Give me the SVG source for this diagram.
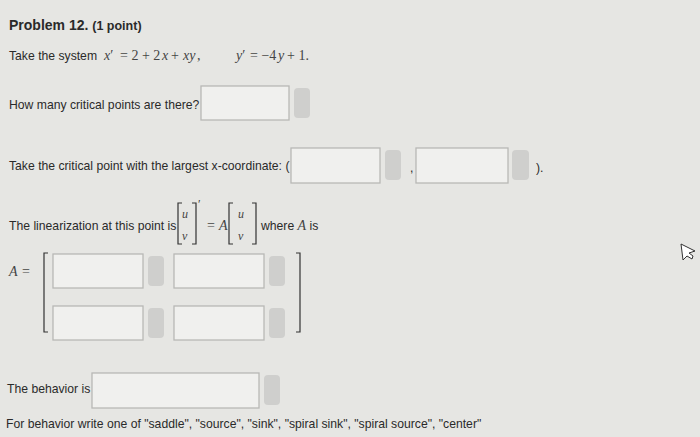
<svg xmlns="http://www.w3.org/2000/svg" width="700" height="437" viewBox="0 0 700 437">
<style>
text{font-family:"Liberation Sans",Arial,sans-serif;font-size:12.2px;fill:#2a2a2a}
.m{font-family:"Liberation Serif","Times New Roman",serif;font-style:italic;font-size:14px;fill:#444}
.n{font-style:normal}
.box{fill:#f0f0ee;stroke:#b8b8b6;stroke-width:1.3}
.btn{fill:#cfcfcd}
.br{fill:none;stroke:#333;stroke-width:1.2}
</style>
<rect width="700" height="437" fill="#e6e6e3"/>
<g id="title"><text x="9" y="30" style="font-weight:bold;font-size:14px">Problem 12. <tspan style="font-size:12.5px">(1 point)</tspan></text></g>
<g id="system"><text x="9" y="60">Take the system</text>
<text class="m" x="104" y="60">x<tspan class="n">′</tspan></text><text class="m n" x="120" y="60">= 2 + 2</text><text class="m" x="162" y="60">x</text><text class="m n" x="171" y="60">+</text><text class="m" x="183" y="60">xy</text><text class="m n" x="197" y="60">,</text>
<text class="m" x="236" y="60">y<tspan class="n">′</tspan></text><text class="m n" x="250" y="60">= −4</text><text class="m" x="278" y="60">y</text><text class="m n" x="287" y="60">+ 1.</text></g>
<g id="q1"><text x="9" y="109">How many critical points are there?</text>
<rect class="box" x="201" y="86" width="88" height="34"/><rect class="btn" x="294" y="88" width="16" height="30" rx="4"/></g>
<g id="q2"><text x="9" y="170">Take the critical point with the largest x-coordinate: (</text>
<rect class="box" x="291" y="148" width="89" height="35"/><rect class="btn" x="385" y="150" width="16" height="30" rx="4"/>
<text x="410" y="172">,</text>
<rect class="box" x="416" y="148" width="92" height="35"/><rect class="btn" x="512" y="150" width="17" height="30" rx="4"/>
<text x="536" y="172">).</text></g>
<g id="q3"><text x="9" y="230">The linearization at this point is</text>
<path class="br" d="M182,203h-4v41h4M192,203h4v41h-4"/>
<text class="m" x="182" y="218" style="font-size:12px">u</text><text class="m" x="182" y="240" style="font-size:12px">v</text>
<text class="m n" x="198" y="208" style="font-size:12px">′</text>
<text class="m n" x="207" y="230">=</text><text class="m" x="219" y="230">A</text>
<path class="br" d="M233,203h-4v41h4M252,203h4v41h-4"/>
<text class="m" x="238" y="218" style="font-size:12px">u</text><text class="m" x="238" y="240" style="font-size:12px">v</text>
<text x="261" y="230">where <tspan class="m">A</tspan> is</text></g>
<g id="matrix"><text class="m" x="9" y="276">A</text><text class="m n" x="22" y="276">=</text>
<path class="br" d="M48,253h-4v79h4M296,253h4v79h-4"/>
<rect class="box" x="53" y="254" width="90" height="34"/><rect class="btn" x="148" y="256" width="16" height="30" rx="4"/>
<rect class="box" x="174" y="254" width="90" height="34"/><rect class="btn" x="269" y="256" width="16" height="30" rx="4"/>
<rect class="box" x="53" y="306" width="90" height="34"/><rect class="btn" x="148" y="308" width="16" height="30" rx="4"/>
<rect class="box" x="174" y="306" width="90" height="34"/><rect class="btn" x="269" y="308" width="16" height="30" rx="4"/></g>
<g id="q4"><text x="7" y="393">The behavior is</text>
<rect class="box" x="92" y="373" width="167" height="35"/><rect class="btn" x="264" y="375" width="16" height="30" rx="4"/>
<text x="6" y="428">For behavior write one of "saddle", "source", "sink", "spiral sink", "spiral source", "center"</text></g>
<g id="cursor"><path d="M681,244l2,16 4,-4 5,3 1,-3 -4,-3 6,-2z" fill="#fff" stroke="#333" stroke-width="1"/></g>
</svg>
